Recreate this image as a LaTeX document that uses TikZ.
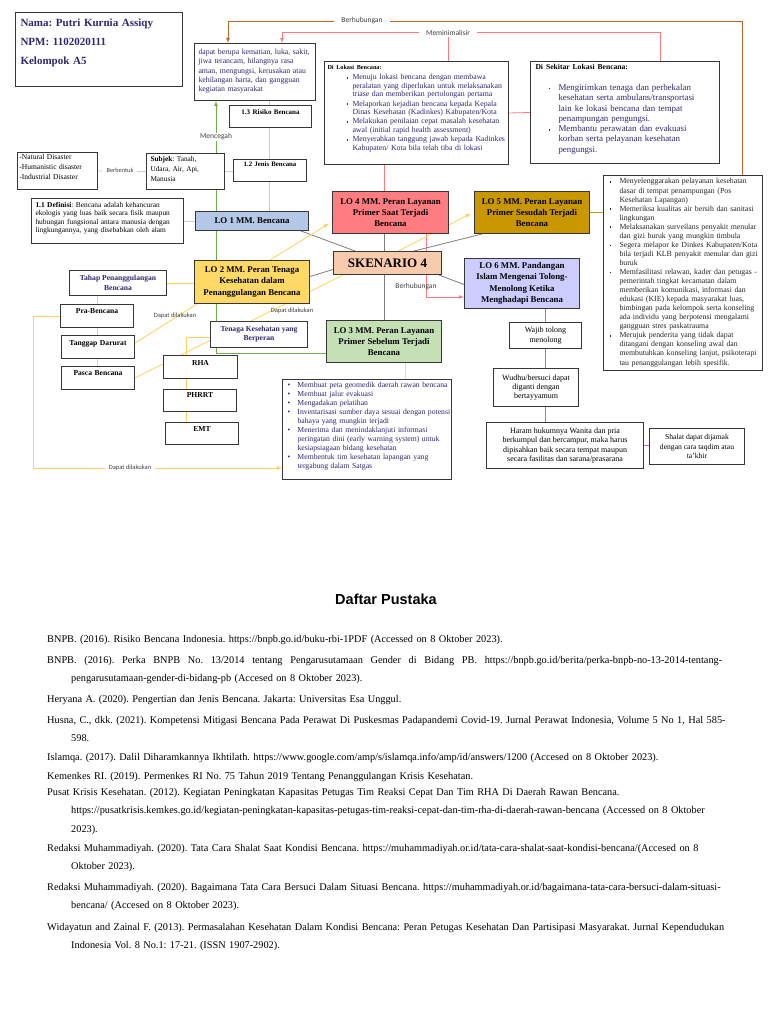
\documentclass[tikz,border=0pt]{standalone}
\usepackage{fontspec}
\setmainfont{Liberation Serif}
\newfontfamily\lblfont{Carlito}
\newfontfamily\headfont{Liberation Sans}
\usetikzlibrary{arrows}
\usetikzlibrary{calc, backgrounds}
\frenchspacing

\definecolor{navy}{RGB}{46,40,110}
\definecolor{boxline}{RGB}{55,55,55}
\definecolor{lofour}{RGB}{255,124,128}
\definecolor{lofive}{RGB}{201,151,0}
\definecolor{loone}{RGB}{180,199,231}
\definecolor{skfill}{RGB}{248,203,173}
\definecolor{losix}{RGB}{204,204,255}
\definecolor{lotwo}{RGB}{255,217,102}
\definecolor{lothree}{RGB}{197,224,180}
\definecolor{brownln}{RGB}{190,100,40}
\definecolor{pinkln}{RGB}{255,120,125}
\definecolor{grayln}{RGB}{125,125,125}
\definecolor{yellowln}{RGB}{255,208,90}
\definecolor{greenln}{RGB}{112,173,71}
\definecolor{lgreenln}{RGB}{214,230,170}
\definecolor{blueln}{RGB}{190,206,236}
\definecolor{purpleln}{RGB}{170,110,210}
\definecolor{lblgray}{RGB}{64,64,64}

\newlength{\bulleft}
\newlength{\bulind}
\newcommand{\bi}[1]{\hspace*{\bulleft}\makebox[\bulind][l]{\textbullet}\mbox{#1}}
\newcommand{\bs}[1]{\hspace*{\bulleft}\makebox[\bulind][l]{\raisebox{1pt}{\rule{1.8pt}{1.8pt}}}\mbox{#1}}
\newcommand{\bc}[1]{\hspace*{\bulleft}\hspace*{\bulind}\mbox{#1}}
\newcommand{\fullline}[1]{\hbox to 675pt{\spaceskip=2.6pt plus 1fil\relax #1}}

\tikzset{
  box/.style={draw=boxline, line width=1pt, fill=white, anchor=north west, inner sep=2pt},
  topbox/.style={box, align=left},
  midbox/.style={box, align=center},
  lobox/.style={midbox, font=\bfseries\fontsize{8.8}{11.2}\selectfont},
  stagebox/.style={midbox, font=\bfseries\fontsize{7.6}{9}\selectfont, text width=69pt},
  lbl/.style={fill=white, inner xsep=7pt, inner ysep=1pt, text=lblgray, font=\lblfont\fontsize{7.5}{8}\selectfont},
  smlbl/.style={lbl, inner xsep=4pt, font=\lblfont\fontsize{6.5}{7}\selectfont},
  conn/.style={line width=0.8pt},
  refline/.style={anchor=base west, inner sep=0pt, align=left, text width=720pt, font=\fontsize{10.3}{18.8}\selectfont},
}

\begin{document}
\begin{tikzpicture}[x=1pt,y=-1pt]
\useasboundingbox (0,0) rectangle (768,1024);

%identity
\node[topbox, text=navy, font=\bfseries\fontsize{11}{19}\selectfont, inner xsep=5pt, text width=157pt, text height=11.6pt, text depth=58.4pt] (name) at (15,12) {Nama: Putri Kurnia Assiqy\\NPM: 1102020111\\Kelompok A5};

%LO 1 side
\node[topbox, text=navy, font=\fontsize{7.8}{9.2}\selectfont, inner xsep=4pt, text width=113pt, text height=9.3pt, text depth=43.7pt] (dapat) at (194,43) {dapat berupa kematian, luka, sakit,\\jiwa terancam, hilangnya rasa\\aman, mengungsi, kerusakan atau\\kehilangan harta, dan gangguan\\kegiatan masyarakat};
\node[midbox, font=\bfseries\fontsize{7}{8}\selectfont, text width=78pt, text height=7.5pt, text depth=10.5pt] (risk13) at (229,105) {1.3 Risiko Bencana};
\node[topbox, font=\fontsize{7.5}{10}\selectfont, text width=76pt, text height=5.3pt, text depth=27.7pt] (natural) at (17,152) {-Natural Disaster\\-Humanistic disaster\\-Industrial Disaster};
\node[topbox, font=\fontsize{7.3}{9.7}\selectfont, inner xsep=4pt, text width=70pt, text height=6.3pt, text depth=25.7pt] (subjek) at (146,153) {\textbf{Subjek}: Tanah,\\Udara, Air, Api,\\Manusia};
\node[midbox, font=\bfseries\fontsize{6.8}{8}\selectfont, text width=69pt, text height=5.5pt, text depth=12.5pt] (jenis12) at (233,159) {1.2 Jenis Bencana};
\node[topbox, font=\fontsize{7.4}{8.2}\selectfont, inner xsep=4pt, text width=144pt, text height=7.3pt, text depth=33.7pt] (definisi) at (31,198) {\textbf{1.1 Definisi}: Bencana adalah kehancuran\\ekologis yang luas baik secara fisik maupun\\hubungan fungsional antara manusia dengan\\lingkungannya, yang disebabkan oleh alam};

%LO 4 and LO 5 side
\node[topbox, text=navy, font=\fontsize{7.8}{8.2}\selectfont, inner xsep=3pt, text width=178pt, text height=6.5pt, text depth=92.5pt] (lokasi) at (324,61) {\setlength{\bulleft}{19pt}\setlength{\bulind}{6pt}{\color{black}\bfseries\fontsize{6.2}{7}\selectfont Di Lokasi Bencana:}\\[1.8pt]
\bs{Menuju lokasi bencana dengan membawa}\\
\bc{peralatan yang diperlukan untuk melaksanakan}\\
\bc{triase dan memberikan pertolongan pertama}\\[1.5pt]
\bs{Melaporkan kejadian bencana kepada Kepala}\\
\bc{Dinas Kesehatan (Kadinkes) Kabupaten/Kota}\\[1.5pt]
\bs{Melakukan penilaian cepat masalah kesehatan}\\
\bc{awal (initial rapid health assessment)}\\[1.5pt]
\bs{Menyerahkan tanggung jawab kepada Kadinkes}\\
\bc{Kabupaten/ Kota bila telah tiba di lokasi}};
\node[topbox, text=navy, font=\fontsize{8.9}{10.3}\selectfont, inner xsep=5pt, text width=179pt, text height=6.5pt, text depth=91.5pt] (sekitar) at (530,61) {\setlength{\bulleft}{13pt}\setlength{\bulind}{10pt}{\color{black}\bfseries\fontsize{7.6}{8}\selectfont Di Sekitar Lokasi Bencana:}\\[10.2pt]
\bs{Mengirimkan tenaga dan perbekalan}\\
\bc{kesehatan serta ambulans/transportasi}\\
\bc{lain ke lokasi bencana dan tempat}\\
\bc{penampungan pengungsi.}\\
\bs{Membantu perawatan dan evakuasi}\\
\bc{korban serta pelayanan kesehatan}\\
\bc{pengungsi.}};
\node[topbox, text=black!85, font=\fontsize{7.8}{9.05}\selectfont, inner xsep=3pt, text width=153pt, text height=6.5pt, text depth=184.5pt] (rightlist) at (603,175) {\setlength{\bulleft}{3pt}\setlength{\bulind}{10pt}%
\bs{Menyelenggarakan pelayanan kesehatan}\\
\bc{dasar di tempat penampungan (Pos}\\
\bc{Kesehatan Lapangan)}\\
\bs{Memeriksa kualitas air bersih dan sanitasi}\\
\bc{lingkungan}\\
\bs{Melaksanakan surveilans penyakit menular}\\
\bc{dan gizi buruk yang mungkin timbula}\\
\bs{Segera melapor ke Dinkes Kabupaten/Kota}\\
\bc{bila terjadi KLB penyakit menular dan gizi}\\
\bc{buruk}\\
\bs{Memfasilitasi relawan, kader dan petugas -}\\
\bc{pemerintah tingkat kecamatan dalam}\\
\bc{memberikan komunikasi, informasi dan}\\
\bc{edukasi (KIE) kepada masyarakat luas,}\\
\bc{bimbingan pada kelompok serta konseling}\\
\bc{ada individu yang berpotensi mengalami}\\
\bc{gangguan stres paskatrauma}\\
\bs{Merujuk penderita yang tidak dapat}\\
\bc{ditangani dengan konseling awal dan}\\
\bc{membutuhkan konseling lanjut, psikoterapi}\\
\bc{tau penanggulangan lebih spesifik.}};

%learning objectives
\node[lobox, fill=lofour, minimum width=116pt, minimum height=42pt] (lo4) at (332,191) {LO 4 MM. Peran Layanan\\Primer Saat Terjadi\\Bencana};
\node[lobox, fill=lofive, minimum width=115pt, minimum height=42pt] (lo5) at (474,191) {LO 5 MM. Peran Layanan\\Primer Sesudah Terjadi\\Bencana};
\node[lobox, fill=loone, minimum width=113pt, minimum height=19pt] (lo1) at (195,211) {LO 1 MM. Bencana};
\node[lobox, fill=skfill, minimum width=108pt, minimum height=23pt, font=\bfseries\fontsize{13}{15}\selectfont] (sken) at (333,251) {SKENARIO 4};
\node[lobox, fill=losix, minimum width=115pt, minimum height=50pt] (lo6) at (464,258) {LO 6 MM. Pandangan\\Islam Mengenai Tolong-\\Menolong Ketika\\Menghadapi Bencana};
\node[lobox, fill=lotwo, minimum width=115pt, minimum height=43pt] (lo2) at (194,260) {LO 2 MM. Peran Tenaga\\Kesehatan dalam\\Penanggulangan Bencana};
\node[lobox, fill=lothree, minimum width=115pt, minimum height=42pt] (lo3) at (326,320) {LO 3 MM. Peran Layanan\\Primer Sebelum Terjadi\\Bencana};

%LO 2 side
\node[midbox, text=navy, font=\bfseries\fontsize{7.6}{9.3}\selectfont, minimum width=97pt, minimum height=25pt] (tahap) at (69,270) {Tahap Penanggulangan\\Bencana};
\node[stagebox, text height=6.5pt, text depth=12.5pt] (pra) at (60,304) {Pra-Bencana};
\node[stagebox, text height=7.5pt, text depth=11.5pt] (tanggap) at (61,335) {Tanggap Darurat};
\node[stagebox, text height=6.5pt, text depth=12.5pt] (pasca) at (61,366) {Pasca Bencana};
\node[midbox, text=navy, font=\bfseries\fontsize{7.6}{9.3}\selectfont, minimum width=97pt, minimum height=26pt] (tenaga) at (210,321) {Tenaga Kesehatan yang\\Berperan};
\node[stagebox, text width=70pt, text height=7.5pt, text depth=11.5pt] (rha) at (163,355) {RHA};
\node[stagebox, text height=5.5pt, text depth=12.5pt] (phrrt) at (163,389) {PHRRT};
\node[stagebox, text height=6.5pt, text depth=11.5pt] (emt) at (165,422) {EMT};

%LO 3 side
\node[topbox, text=navy, font=\fontsize{7.7}{9}\selectfont, inner xsep=3pt, text width=163pt, text height=6.3pt, text depth=89.7pt] (prelist) at (282,379) {\setlength{\bulleft}{2pt}\setlength{\bulind}{10pt}%
\bi{Membuat peta geomedik daerah rawan bencana}\\
\bi{Membuat jalur evakuasi}\\
\bi{Mengadakan pelatihan}\\
\bi{Inventarisasi sumber daya sesuai dengan potensi}\\
\bc{bahaya yang mungkin terjadi}\\
\bi{Menerima dan menindaklanjuti informasi}\\
\bc{peringatan dini (early warning system) untuk}\\
\bc{kesiapsiagaan bidang kesehatan}\\
\bi{Membentuk tim kesehatan lapangan yang}\\
\bc{tergabung dalam Satgas}};

%LO 6 side
\node[midbox, font=\fontsize{8}{9.3}\selectfont, minimum width=72pt, minimum height=26pt] (wajib) at (509,322) {Wajib tolong\\menolong};
\node[midbox, font=\fontsize{8}{9.3}\selectfont, minimum width=85pt, minimum height=38pt] (wudhu) at (493,368) {Wudhu/bersuci dapat\\diganti dengan\\bertayyamum};
\node[midbox, font=\fontsize{8}{9.3}\selectfont, minimum width=157pt, minimum height=46pt] (haram) at (486,422) {Haram hukumnya Wanita dan pria\\berkumpul dan bercampur, maka harus\\dipisahkan baik secara tempat maupun\\secara fasilitas dan sarana/prasarana};
\node[midbox, font=\fontsize{7.6}{9.3}\selectfont, minimum width=95pt, minimum height=36pt] (shalat) at (649,428) {Shalat dapat dijamak\\dengan cara taqdim atau\\ta’khir};

%link labels
\node[lbl] (berhub1) at (362,21) {Berhubungan};
\node[lbl] (minim) at (448,33) {Meminimalisir};
\node[lbl, inner xsep=2pt] (mencegah) at (216,137) {Mencegah};
\node[smlbl, font=\lblfont\fontsize{6.3}{7}\selectfont] (berbentuk) at (120,170) {Berbentuk};
\node[lbl, fill=none, inner xsep=1pt] (berhub2) at (416,287) {Berhubungan};
\node[smlbl, fill=none] (dapat1) at (292,311) {Dapat dilakukan};
\node[smlbl, fill=none] (dapat2) at (175,316) {Dapat dilakukan};
\node[smlbl] (dapat3) at (130,468) {Dapat dilakukan};

\begin{scope}[on background layer]
\fill[white] (0,0) rectangle (768,1024);
\coordinate (midx) at (384,0);
\coordinate (brA) at (228,21);
\coordinate (brB) at (742,21);
\coordinate (pkA) at (282,32);
\coordinate (pkB) at (660,32);
\coordinate (pkC) at (426,297);
\coordinate (gnA) at (216,353);
\coordinate (lbx) at (269,0);
\coordinate (yl) at (97,0);
\coordinate (yx) at (186,0);
\coordinate (ylA) at (33,468);
\coordinate (lgx) at (405,0);
\coordinate (pux) at (545,0);

%top links
\draw[conn, brownln, -latex] (rightlist.north -| brB) |- (brA) -- (brA |- dapat.north);
\draw[conn, pinkln, -latex] (sekitar.north -| pkB) |- (pkA) -- (pkA |- dapat.north);
\draw[conn, pinkln] (minim.south) -- (minim.south |- lokasi.north);
\draw[conn, pinkln] (lokasi.east) -- (sekitar.west);
\draw[conn, pinkln] (lokasi.south -| midx) -- (lo4.north -| midx);
\draw[conn, pinkln, -latex] (lo4.south -| pkC) |- (lo6.west |- pkC);

%scenario links
\draw[conn, grayln] (lo4.south -| midx) -- (sken.north -| midx);
\draw[conn, grayln] (sken.south -| midx) -- (lo3.north -| midx);
\draw[conn, grayln] ($(lo1.south east)+(-8,0)$) -- ($(sken.north west)+(22,0)$);
\draw[conn, grayln] ($(sken.north east)+(-28,0)$) -- ($(lo5.south west)+(8,0)$);
\draw[conn, grayln] ($(lo2.east)+(0,-5.5)$) -- ($(sken.west)+(0,6.5)$);
\draw[conn, grayln] ($(sken.south east)+(-3,0)$) -- ($(lo6.west)+(0,1)$);

%yellow links
\draw[conn, yellowln, -latex] ($(lo2.north)+(18,0)$) -- ($(lo4.west)+(-3,11)$);
\draw[conn, yellowln, -latex] ($(sken.north)+(11,0)$) -- ($(lo5.west)+(-3,1)$);
\draw[conn, yellowln] ($(sken.south west)+(10,0)$) -- ($(tenaga.north)+(-8,0)$);
\draw[conn, yellowln] ($(lo2.south west)+(3,0)$) -- ($(tanggap.east)+(0,-4)$);
\draw[conn, yellowln] (tahap.east) -- (tahap.east -| lo2.west);
\draw[conn, yellowln] (tahap.south -| yl) -- (pra.north -| yl);
\draw[conn, yellowln] (pra.south -| yl) -- (tanggap.north -| yl);
\draw[conn, yellowln] (tanggap.south -| yl) -- (pasca.north -| yl);
\draw[conn, yellowln] (pasca.east) -- ($(tenaga.west)+(0,6)$);
\draw[conn, yellowln] ($(tenaga.west)+(0,3)$) -| (rha.north -| yx);
\draw[conn, yellowln] (rha.south -| yx) -- (phrrt.north -| yx);
\draw[conn, yellowln] (phrrt.south -| yx) -- (emt.north -| yx);
\draw[conn, yellowln, -latex] (pra.west) -| (ylA) -- (ylA -| prelist.west);

%green and blue links
\draw[conn, greenln, -latex] (lo3.west |- gnA) -- (gnA) -- (gnA |- dapat.south);
\draw[conn, lgreenln] (lo3.south -| lgx) -- (prelist.north -| lgx);
\draw[conn, blueln] (dapat.south -| lbx) -- (lo1.north -| lbx);
\draw[conn, blueln] (natural.east) -- (subjek.west);
\draw[conn, blueln] (subjek.east) -- (subjek.east -| jenis12.west);
\draw[conn, blueln] (definisi.east) -- (definisi.east -| lo1.west);

%right links
\draw[conn, lofive] (lo5.east) -- (lo5.east -| rightlist.west);
\draw[conn, purpleln] (lo6.south -| pux) -- (wajib.north -| pux);
\draw[conn, purpleln] (wajib.south -| pux) -- (wudhu.north -| pux);
\draw[conn, purpleln] (wudhu.south -| pux) -- (haram.north -| pux);
\draw[conn, purpleln] (haram.east) -- (haram.east -| shalat.west);
\end{scope}

%references
\node[font=\headfont\bfseries\fontsize{14.5}{16}\selectfont] (judul) at (386,599) {Daftar Pustaka};
\node[refline] (ref1) at (47,642) {BNPB. (2016). Risiko Bencana Indonesia. https://bnpb.go.id/buku-rbi-1PDF (Accessed on 8 Oktober 2023).};
\node[refline] (ref2) at (47,663) {\fullline{BNPB. (2016). Perka BNPB No. 13/2014 tentang Pengarusutamaan Gender di Bidang PB. https://bnpb.go.id/berita/perka-bnpb-no-13-2014-tentang-}\\\hspace*{24pt}pengarusutamaan-gender-di-bidang-pb (Accesed on 8 Oktober 2023).};
\node[refline] (ref3) at (47,702) {Heryana A. (2020). Pengertian dan Jenis Bencana. Jakarta: Universitas Esa Unggul.};
\node[refline] (ref4) at (47,723) {Husna, C., dkk. (2021). Kompetensi Mitigasi Bencana Pada Perawat Di Puskesmas Padapandemi Covid-19. Jurnal Perawat Indonesia, Volume 5 No 1, Hal 585-\\\hspace*{24pt}598.};
\node[refline] (ref5) at (47,760) {Islamqa. (2017). Dalil Diharamkannya Ikhtilath. https://www.google.com/amp/s/islamqa.info/amp/id/answers/1200 (Accesed on 8 Oktober 2023).};
\node[refline] (ref6) at (47,779) {Kemenkes RI. (2019). Permenkes RI No. 75 Tahun 2019 Tentang Penanggulangan Krisis Kesehatan.};
\node[refline] (ref7) at (47,795) {Pusat Krisis Kesehatan. (2012). Kegiatan Peningkatan Kapasitas Petugas Tim Reaksi Cepat Dan Tim RHA Di Daerah Rawan Bencana.\\\hspace*{24pt}\mbox{https://pusatkrisis.kemkes.go.id/kegiatan-peningkatan-kapasitas-petugas-tim-reaksi-cepat-dan-tim-rha-di-daerah-rawan-bencana (Accessed on 8 Oktober}\\\hspace*{24pt}2023).};
\node[refline] (ref8) at (47,851) {Redaksi Muhammadiyah. (2020). Tata Cara Shalat Saat Kondisi Bencana. https://muhammadiyah.or.id/tata-cara-shalat-saat-kondisi-bencana/(Accesed on 8\\\hspace*{24pt}Oktober 2023).};
\node[refline] (ref9) at (47,890) {Redaksi Muhammadiyah. (2020). Bagaimana Tata Cara Bersuci Dalam Situasi Bencana. https://muhammadiyah.or.id/bagaimana-tata-cara-bersuci-dalam-situasi-\\\hspace*{24pt}bencana/ (Accesed on 8 Oktober 2023).};
\node[refline] (ref10) at (47,930) {Widayatun and Zainal F. (2013). Permasalahan Kesehatan Dalam Kondisi Bencana: Peran Petugas Kesehatan Dan Partisipasi Masyarakat. Jurnal Kependudukan\\\hspace*{24pt}Indonesia Vol. 8 No.1: 17-21. (ISSN 1907-2902).};
\end{tikzpicture}
\end{document}
